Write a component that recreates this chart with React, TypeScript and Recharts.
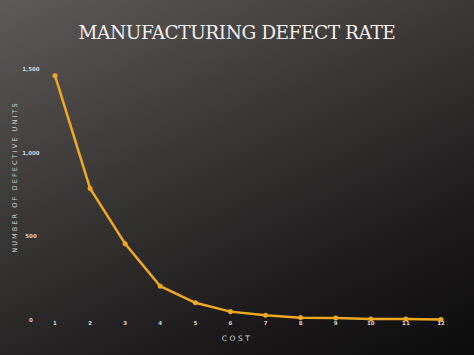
import React from "react";
import { LineChart, Line, XAxis, YAxis } from "recharts";

const costs = [1, 2, 3, 4, 5, 6, 7, 8, 9, 10, 11, 12];
const defectiveUnits = [1460, 786, 455, 202, 103, 50, 28, 14, 12, 6, 6, 3];
const yTicks = [0, 500, 1000, 1500];
const title = "MANUFACTURING DEFECT RATE";
const xLabel = "COST";
const yLabel = "NUMBER OF DEFECTIVE UNITS";

const data = costs.map((c, i) => ({ cost: c, units: defectiveUnits[i] }));

const tickColor = "#d6d2d2";

const XTick = (props: any) => {
  const { x, payload } = props;
  return (
    <text x={x} y={325} textAnchor="middle" fontSize={5.5} fontWeight="bold" fill={tickColor} fontFamily="DejaVu Sans">
      {payload.value}
    </text>
  );
};

const YTick = (props: any) => {
  const { y, payload } = props;
  return (
    <text x={31} y={y + 2} textAnchor="middle" fontSize={5.5} fontWeight="bold" fill={tickColor} fontFamily="DejaVu Sans">
      {payload.value.toLocaleString("en-US")}
    </text>
  );
};

const XLabel = () => (
  <text x={237} y={341} textAnchor="middle" fontSize={7.5} letterSpacing={2.5} fill={tickColor} fontFamily="DejaVu Sans">
    {xLabel}
  </text>
);

const YLabel = () => (
  <text
    x={15}
    y={177}
    transform="rotate(-90 15 177)"
    textAnchor="middle"
    dominantBaseline="middle"
    fontSize={6.5}
    letterSpacing={2.1}
    fill={tickColor}
    fontFamily="DejaVu Sans"
  >
    {yLabel}
  </text>
);

export default function App() {
  return (
    <div
      style={{
        position: "absolute",
        top: 0,
        left: 0,
        width: 474,
        height: 355,
        background: "linear-gradient(155deg, #5e5a5a 0%, #3a3737 40%, #1c1a1a 75%, #0d0c0c 100%)",
        overflow: "hidden",
      }}
    >
      <div
        style={{
          position: "absolute",
          top: 21,
          left: 0,
          width: 474,
          textAlign: "center",
          fontFamily: "DejaVu Serif",
          fontSize: 18.5,
          letterSpacing: -0.45,
          lineHeight: "24px",
          color: "#f4f1ee",
          whiteSpace: "nowrap",
        }}
      >
        {title}
      </div>
      <div style={{ position: "absolute", top: 0, left: 0 }}>
        <LineChart width={474} height={355} data={data} margin={{ top: 69, right: 33, bottom: 0, left: 0 }}>
          <XAxis
            dataKey="cost"
            type="number"
            domain={[1, 12]}
            ticks={costs}
            axisLine={false}
            tickLine={false}
            height={35}
            tick={<XTick />}
            label={<XLabel />}
            interval={0}
          />
          <YAxis
            type="number"
            domain={[0, 1500]}
            ticks={yTicks}
            axisLine={false}
            tickLine={false}
            width={55}
            tick={<YTick />}
            label={<YLabel />}
            interval={0}
          />
          <Line
            type="linear"
            dataKey="units"
            stroke="#f2a922"
            strokeWidth={2.5}
            dot={{ r: 2.3, fill: "#f2a922", stroke: "#f2a922", strokeWidth: 0.5 }}
            isAnimationActive={false}
          />
        </LineChart>
      </div>
    </div>
  );
}
